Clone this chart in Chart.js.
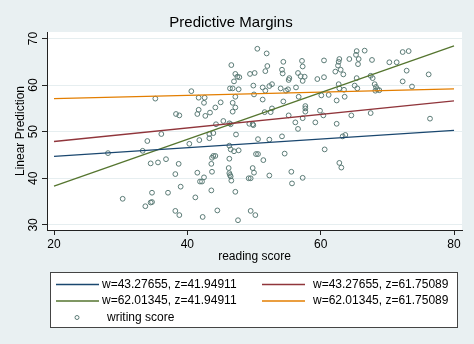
<!DOCTYPE html>
<html>
<head>
<meta charset="utf-8">
<script src="https://cdn.jsdelivr.net/npm/chart.js@4.4.1/dist/chart.umd.min.js"></script>
<style>
  html, body { margin: 0; padding: 0; background: #e9f0f2; }
  #wrap { width: 474px; height: 344px; }
</style>
</head>
<body>
<div id="wrap"><canvas id="myChart" width="474" height="344"></canvas></div>
<script>
// axis ticks
const xTicks = [20, 40, 60, 80];
const yTicks = [30, 40, 50, 60, 70];

// predicted lines (reading score 20 -> 80)
const lineX = [20, 80];
const lineLabels = [
  'w=43.27655, z=41.94911',
  'w=43.27655, z=61.75089',
  'w=62.01345, z=41.94911',
  'w=62.01345, z=61.75089'
];
const lineColors = ['#1a476f', '#90353b', '#55752f', '#e37e00'];
const blueY = [44.7, 50.3];
const maroonY = [47.9, 56.6];
const greenY = [38.3, 68.4];
const orangeY = [57.1, 59.2];

// observed points: reading score / writing score
const readScore = [
  35.2, 38.3, 38.8, 36.1, 34.0, 28.1, 33.3, 34.5, 35.6, 36.8, 38.7, 38.2, 39.0, 30.3, 34.7, 37.1, 33.7, 34.5, 34.7, 38.2, 38.8,
  50.5, 51.9, 46.6, 52.0, 51.7, 47.2, 47.5, 47.8, 49.4, 50.1, 47.0, 49.9, 46.4, 46.8, 47.7, 51.3, 51.7, 52.3, 52.7, 40.6,
  47.2, 50.0, 41.7, 42.6, 42.5, 45.0, 46.8, 51.3, 44.2, 41.7, 41.5, 42.7, 43.4, 46.8, 47.2, 51.6, 52.5, 52.7, 44.3, 45.4,
  46.3, 46.5, 43.9, 43.3, 43.3, 41.8, 40.3, 47.3, 49.3, 49.8, 49.9, 50.6, 52.3, 46.3, 46.5, 47.0, 47.7, 43.7, 43.9, 44.2,
  43.6, 46.3, 50.3, 50.6, 51.4, 43.7, 46.2, 46.3, 46.4, 46.5, 46.6, 41.5, 41.9, 42.2, 42.5, 49.2, 49.5, 49.8, 50.0, 52.3,
  43.6, 47.2, 41.2, 44.5, 42.3, 47.6, 49.5, 50.2,
  65.4, 66.6, 65.3, 65.7, 65.6, 67.7, 64.3, 62.8, 62.7, 62.6, 60.5, 57.2, 57.3, 54.4, 54.2, 54.3, 56.6, 57.0, 57.3, 57.6,
  55.3, 55.2, 59.5, 60.5, 62.2, 63.0, 63.4, 62.7, 62.8, 65.4, 65.1, 65.5, 67.5, 67.8, 54.0, 54.8, 55.1, 56.3, 63.5, 63.6,
  60.1, 61.2, 56.7, 62.4, 54.4, 57.7, 57.7, 57.7, 59.9, 60.4, 55.2, 57.3, 56.2, 56.6, 59.2, 62.4, 64.6, 67.5, 54.2, 63.3,
  63.7, 60.6, 54.6, 62.8, 63.1, 55.6, 57.3, 55.7,
  72.3, 73.2, 70.3, 71.4, 72.9, 76.2, 72.3, 73.7, 68.1, 68.3, 68.5, 68.8, 68.2, 76.4
];
const writeScore = [
  57.1, 53.8, 53.5, 49.5, 48.0, 45.4, 45.9, 43.2, 43.4, 44.1, 43.1, 40.9, 38.2, 35.6, 36.9, 36.9, 34.0, 34.8, 34.9, 33.0, 32.1,
  67.8, 66.8, 64.3, 64.1, 63.0, 62.4, 61.8, 61.7, 62.4, 62.6, 60.8, 59.9, 59.3, 59.3, 59.1, 59.5, 58.8, 59.8, 60.2, 58.7,
  57.5, 58.0, 57.3, 57.3, 56.2, 56.3, 56.2, 56.9, 55.2, 54.7, 53.8, 53.4, 54.1, 54.3, 55.2, 54.2, 54.2, 55.0, 51.6, 52.3,
  51.8, 51.6, 49.7, 49.5, 48.6, 48.2, 47.4, 49.4, 51.7, 51.6, 51.4, 48.4, 48.3, 47.0, 46.2, 45.8, 46.0, 44.4, 44.8, 44.8,
  43.1, 44.2, 45.2, 45.2, 43.9, 41.4, 42.2, 41.1, 40.7, 40.4, 39.5, 41.2, 39.3, 39.3, 40.2, 40.0, 40.0, 42.2, 41.2, 40.6,
  37.4, 37.1, 35.9, 33.1, 31.7, 31.0, 33.0, 32.1,
  67.3, 67.4, 66.5, 65.6, 64.5, 65.4, 65.6, 65.6, 65.0, 64.2, 65.3, 65.2, 64.0, 65.0, 63.3, 62.5, 62.6, 61.9, 60.9, 61.8,
  61.5, 61.1, 61.3, 61.7, 62.9, 63.3, 62.3, 60.2, 59.3, 61.5, 59.9, 59.3, 62.0, 61.5, 59.3, 58.8, 59.1, 59.5, 59.0, 57.5,
  57.8, 57.9, 57.5, 56.7, 56.5, 55.5, 55.0, 54.3, 54.5, 53.5, 53.5, 52.9, 52.0, 50.6, 52.0, 51.7, 53.5, 54.0, 49.0, 49.0,
  49.3, 46.2, 45.3, 43.3, 42.3, 41.4, 40.1, 38.9,
  67.1, 67.3, 64.9, 64.9, 63.1, 62.3, 60.8, 59.7, 60.2, 59.6, 59.1, 58.9, 58.8, 52.8
];

const lineYs = [blueY, maroonY, greenY, orangeY];
const datasets = lineYs.map((ys, i) => ({
  label: lineLabels[i],
  data: lineX.map((x, j) => ({ x: x, y: ys[j] })),
  showLine: true,
  borderColor: lineColors[i],
  backgroundColor: lineColors[i],
  borderWidth: 1.3,
  pointRadius: 0
}));
datasets.push({
  label: 'writing score',
  data: readScore.map((x, i) => ({ x: x, y: writeScore[i] })),
  showLine: false,
  borderColor: '#5c7c77',
  backgroundColor: 'rgba(0,0,0,0)',
  borderWidth: 1,
  pointRadius: 2.4
});

const FONT = '"Liberation Sans", Arial, Helvetica, sans-serif';

// grey graph region + white plot region
const bgPlugin = {
  id: 'bgPlugin',
  beforeDraw(chart) {
    const { ctx, chartArea: a } = chart;
    ctx.save();
    ctx.fillStyle = '#e9f0f2';
    ctx.fillRect(0, 0, chart.width, chart.height);
    ctx.fillStyle = '#ffffff';
    ctx.fillRect(a.left, a.top, a.right - a.left, a.bottom - a.top);
    ctx.restore();
  }
};

// boxed legend in two columns like Stata
const boxLegend = {
  id: 'boxLegend',
  afterDraw(chart) {
    const ctx = chart.ctx;
    const ds = chart.data.datasets;
    ctx.save();
    ctx.fillStyle = '#ffffff';
    ctx.fillRect(50, 272, 407, 55);
    ctx.strokeStyle = '#444';
    ctx.lineWidth = 1;
    ctx.strokeRect(50.5, 272.5, 407, 55);
    const lineStart = [56, 262];
    const textStart = [102, 313];
    const rows = [284.5, 301, 317.5];
    ctx.font = '12px ' + FONT;
    ctx.textBaseline = 'middle';
    ds.forEach((d, i) => {
      const c = i % 2, r = Math.floor(i / 2);
      const y = rows[r];
      if (d.showLine) {
        ctx.strokeStyle = d.borderColor;
        ctx.lineWidth = 1.3;
        ctx.beginPath();
        ctx.moveTo(lineStart[c], y);
        ctx.lineTo(lineStart[c] + 43, y);
        ctx.stroke();
        ctx.fillStyle = '#000';
        ctx.fillText(d.label, textStart[c], y);
      } else {
        ctx.strokeStyle = d.borderColor;
        ctx.lineWidth = 1;
        ctx.beginPath();
        ctx.arc(77, y, 2, 0, Math.PI * 2);
        ctx.stroke();
        ctx.fillStyle = '#000';
        ctx.fillText(d.label, 107, y);
      }
    });
    ctx.restore();
  }
};

const ctx = document.getElementById('myChart').getContext('2d');
const myChart = new Chart(ctx, {
  type: 'scatter',
  data: { datasets: datasets },
  plugins: [bgPlugin, boxLegend],
  options: {
    responsive: false,
    animation: false,
    devicePixelRatio: 1,
    layout: { padding: { left: 0, right: 12, top: 0, bottom: 80 } },
    scales: {
      x: {
        type: 'linear',
        min: 18.95,
        max: 81.2,
        afterBuildTicks: (s) => { s.ticks = xTicks.map(v => ({ value: v })); },
        afterFit: (s) => { s.height = 34; },
        grid: { drawOnChartArea: false, tickLength: 5, tickColor: '#222' },
        border: { color: '#222', width: 1 },
        ticks: { color: '#000', padding: 2, font: { family: FONT, size: 12 } },
        title: { display: true, text: 'reading score', color: '#000', padding: 0, font: { family: FONT, size: 12 } }
      },
      y: {
        type: 'linear',
        min: 28.9,
        max: 71.4,
        afterBuildTicks: (s) => { s.ticks = yTicks.map(v => ({ value: v })); },
        afterFit: (s) => { s.width = 47; },
        grid: { color: '#e6eef0', tickLength: 5, tickColor: '#222' },
        border: { color: '#222', width: 1 },
        ticks: { color: '#000', padding: 2, minRotation: 90, maxRotation: 90, crossAlign: 'center', font: { family: FONT, size: 12 } },
        title: { display: true, text: 'Linear Prediction', color: '#000', padding: { top: 13.5, bottom: 0 }, font: { family: FONT, size: 12 } }
      }
    },
    plugins: {
      legend: { display: false },
      tooltip: { enabled: false },
      title: {
        display: true,
        text: 'Predictive Margins',
        color: '#000',
        padding: { top: 14, bottom: 0 },
        font: { family: FONT, size: 15, weight: 'normal' }
      }
    }
  }
});
</script>
</body>
</html>
